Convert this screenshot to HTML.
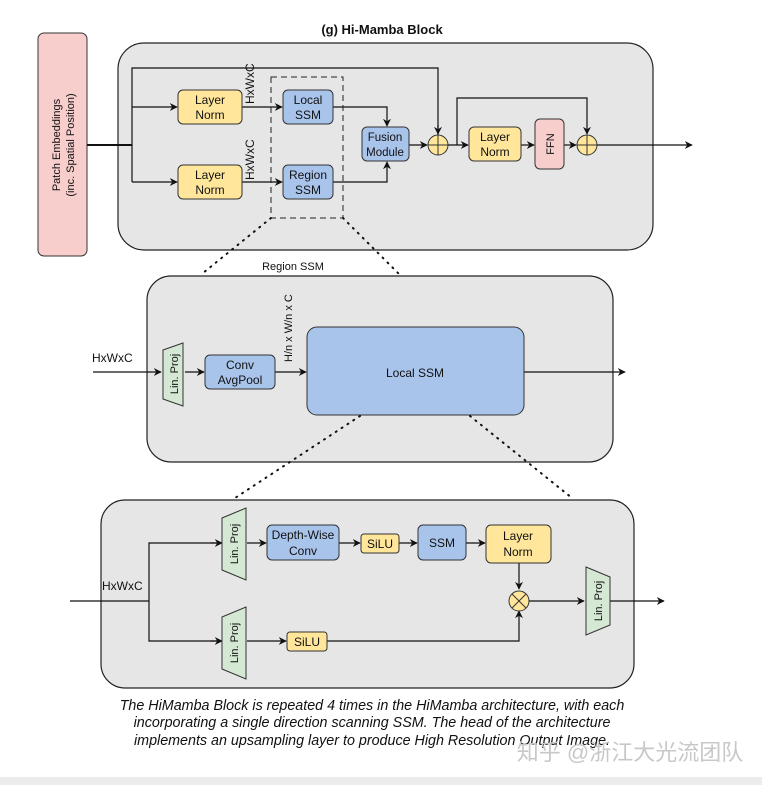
<!DOCTYPE html>
<html><head><meta charset="utf-8"><style>
html,body{margin:0;padding:0;background:#fff;}
svg{display:block;}
text{font-family:"Liberation Sans",sans-serif;fill:#111;}
</style></head><body>
<svg width="762" height="785" viewBox="0 0 762 785" xmlns="http://www.w3.org/2000/svg">
<defs>
<marker id="a" viewBox="0 0 10 10" refX="9" refY="5" markerWidth="8" markerHeight="8" orient="auto" markerUnits="userSpaceOnUse"><path d="M0,0 L10,5 L0,10 L3,5 z" fill="#111"/></marker>
</defs>
<rect x="0" y="0" width="762" height="785" fill="#fff"/>
<text x="382" y="34" font-size="13" font-weight="bold" text-anchor="middle">(g) Hi-Mamba Block</text>

<!-- top block -->
<rect x="118" y="43" width="535" height="207" rx="26" fill="#e6e6e6" stroke="#222" stroke-width="1.2"/>
<rect x="38" y="33" width="49" height="223" rx="6" fill="#f8cecc" stroke="#333" stroke-width="1"/>
<text transform="translate(60,145) rotate(-90)" font-size="11" text-anchor="middle">Patch Embeddings</text>
<text transform="translate(74,145) rotate(-90)" font-size="11" text-anchor="middle">(inc. Spatial Position)</text>
<g stroke="#111" fill="none" stroke-width="1.2">
<line x1="87" y1="145" x2="132" y2="145" stroke-width="2"/>
<polyline points="438,135 438,68 132,68 132,182"/>
<line x1="132" y1="107" x2="177" y2="107" marker-end="url(#a)"/>
<line x1="132" y1="182" x2="177" y2="182" marker-end="url(#a)"/>
<line x1="242" y1="107" x2="282" y2="107" marker-end="url(#a)"/>
<line x1="242" y1="182" x2="282" y2="182" marker-end="url(#a)"/>
<polyline points="333,107 387,107 387,126" marker-end="url(#a)"/>
<polyline points="333,182 387,182 387,162" marker-end="url(#a)"/>
<line x1="409" y1="145" x2="427" y2="145" marker-end="url(#a)"/>
<line x1="438" y1="125" x2="438" y2="134" marker-end="url(#a)"/>
<line x1="448" y1="145" x2="468" y2="145" marker-end="url(#a)"/>
<polyline points="457,145 457,98 587,98 587,134" marker-end="url(#a)"/>
<line x1="521" y1="145" x2="534" y2="145" marker-end="url(#a)"/>
<line x1="564" y1="145" x2="576" y2="145" marker-end="url(#a)"/>
<line x1="597" y1="145" x2="692" y2="145" marker-end="url(#a)"/>
</g>
<rect x="271" y="77" width="72" height="141" fill="none" stroke="#222" stroke-width="1" stroke-dasharray="6,4"/>
<rect x="178" y="90" width="64" height="34" rx="5" fill="#ffe69a" stroke="#333"/>
<text x="210" y="104" font-size="12" text-anchor="middle">Layer</text><text x="210" y="119" font-size="12" text-anchor="middle">Norm</text>
<rect x="178" y="165" width="64" height="34" rx="5" fill="#ffe69a" stroke="#333"/>
<text x="210" y="179" font-size="12" text-anchor="middle">Layer</text><text x="210" y="194" font-size="12" text-anchor="middle">Norm</text>
<text transform="translate(254,104) rotate(-90)" font-size="12">HxWxC</text>
<text transform="translate(254,180) rotate(-90)" font-size="12">HxWxC</text>
<rect x="283" y="90" width="50" height="34" rx="5" fill="#a9c4eb" stroke="#333"/>
<text x="308" y="104" font-size="12" text-anchor="middle">Local</text><text x="308" y="119" font-size="12" text-anchor="middle">SSM</text>
<rect x="283" y="165" width="50" height="34" rx="5" fill="#a9c4eb" stroke="#333"/>
<text x="308" y="179" font-size="12" text-anchor="middle">Region</text><text x="308" y="194" font-size="12" text-anchor="middle">SSM</text>
<rect x="362" y="127" width="47" height="34" rx="5" fill="#a9c4eb" stroke="#333"/>
<text x="385" y="141" font-size="11.5" text-anchor="middle">Fusion</text><text x="385" y="156" font-size="11.5" text-anchor="middle">Module</text>
<circle cx="438" cy="145" r="10" fill="#ffe69a" stroke="#333"/>
<path d="M428,145 H448 M438,135 V155" stroke="#333"/>
<rect x="469" y="127" width="52" height="34" rx="5" fill="#ffe69a" stroke="#333"/>
<text x="495" y="141" font-size="12" text-anchor="middle">Layer</text><text x="495" y="156" font-size="12" text-anchor="middle">Norm</text>
<rect x="535" y="119" width="29" height="50" rx="5" fill="#f8cecc" stroke="#333"/>
<text transform="translate(554,144) rotate(-90)" font-size="11" text-anchor="middle">FFN</text>
<circle cx="587" cy="145" r="10" fill="#ffe69a" stroke="#333"/>
<path d="M577,145 H597 M587,135 V155" stroke="#333"/>

<text x="293" y="270" font-size="11" text-anchor="middle">Region SSM</text>

<!-- middle block -->
<rect x="147" y="276" width="466" height="186" rx="24" fill="#e6e6e6" stroke="#222" stroke-width="1.2"/>
<text x="92" y="362" font-size="12">HxWxC</text>
<g stroke="#111" fill="none" stroke-width="1.2">
<line x1="93" y1="372" x2="161" y2="372" marker-end="url(#a)"/>
<line x1="185" y1="372" x2="204" y2="372" marker-end="url(#a)"/>
<line x1="275" y1="372" x2="306" y2="372" marker-end="url(#a)"/>
<line x1="524" y1="372" x2="625" y2="372" marker-end="url(#a)"/>
</g>
<polygon points="163,350 183,343 183,406 163,399" fill="#d5e8d4" stroke="#333"/>
<text transform="translate(178,374) rotate(-90)" font-size="11" text-anchor="middle">Lin. Proj</text>
<rect x="205" y="355" width="70" height="34" rx="5" fill="#a9c4eb" stroke="#333"/>
<text x="240" y="369" font-size="12" text-anchor="middle">Conv</text><text x="240" y="384" font-size="12" text-anchor="middle">AvgPool</text>
<text transform="translate(292,362) rotate(-90)" font-size="11">H/n x W/n x C</text>
<rect x="307" y="327" width="217" height="88" rx="10" fill="#a9c4eb" stroke="#333"/>
<text x="415" y="377" font-size="12" text-anchor="middle">Local SSM</text>

<!-- bottom block -->
<rect x="101" y="500" width="533" height="188" rx="24" fill="#e6e6e6" stroke="#222" stroke-width="1.2"/>
<text x="102" y="590" font-size="12">HxWxC</text>
<g stroke="#111" fill="none" stroke-width="1.2">
<line x1="70" y1="601" x2="149" y2="601"/>
<polyline points="221,543 149,543 149,641 221,641" />
<line x1="210" y1="543" x2="222" y2="543" marker-end="url(#a)"/>
<line x1="210" y1="641" x2="222" y2="641" marker-end="url(#a)"/>
<line x1="247" y1="543" x2="266" y2="543" marker-end="url(#a)"/>
<line x1="339" y1="543" x2="360" y2="543" marker-end="url(#a)"/>
<line x1="399" y1="543" x2="417" y2="543" marker-end="url(#a)"/>
<line x1="466" y1="543" x2="485" y2="543" marker-end="url(#a)"/>
<line x1="519" y1="563" x2="519" y2="589" marker-end="url(#a)"/>
<line x1="247" y1="641" x2="286" y2="641" marker-end="url(#a)"/>
<polyline points="327,641 519,641 519,611" marker-end="url(#a)"/>
<line x1="529" y1="601" x2="584" y2="601" marker-end="url(#a)"/>
<line x1="610" y1="601" x2="664" y2="601" marker-end="url(#a)"/>
</g>
<polygon points="222,518 246,508 246,580 222,570" fill="#d5e8d4" stroke="#333"/>
<text transform="translate(238,544) rotate(-90)" font-size="11" text-anchor="middle">Lin. Proj</text>
<polygon points="222,617 246,607 246,679 222,669" fill="#d5e8d4" stroke="#333"/>
<text transform="translate(238,643) rotate(-90)" font-size="11" text-anchor="middle">Lin. Proj</text>
<polygon points="586,567 610,577 610,625 586,635" fill="#d5e8d4" stroke="#333"/>
<text transform="translate(602,601) rotate(-90)" font-size="11" text-anchor="middle">Lin. Proj</text>
<rect x="267" y="525" width="72" height="35" rx="5" fill="#a9c4eb" stroke="#333"/>
<text x="303" y="539" font-size="12" text-anchor="middle">Depth-Wise</text><text x="303" y="555" font-size="12" text-anchor="middle">Conv</text>
<rect x="361" y="534" width="38" height="19" rx="3" fill="#ffe69a" stroke="#333"/>
<text x="380" y="548" font-size="12" text-anchor="middle">SiLU</text>
<rect x="418" y="525" width="48" height="35" rx="5" fill="#a9c4eb" stroke="#333"/>
<text x="442" y="547" font-size="12" text-anchor="middle">SSM</text>
<rect x="486" y="525" width="65" height="38" rx="5" fill="#ffe69a" stroke="#333"/>
<text x="518" y="540" font-size="12" text-anchor="middle">Layer</text><text x="518" y="556" font-size="12" text-anchor="middle">Norm</text>
<rect x="287" y="632" width="40" height="19" rx="3" fill="#ffe69a" stroke="#333"/>
<text x="307" y="646" font-size="12" text-anchor="middle">SiLU</text>
<circle cx="519" cy="601" r="10" fill="#ffe69a" stroke="#333"/>
<path d="M512,594 L526,608 M526,594 L512,608" stroke="#333"/>

<!-- dotted zoom lines (on top) -->
<g stroke="#111" stroke-width="2" stroke-dasharray="1,6" stroke-linecap="round" fill="none">
<line x1="271" y1="218" x2="203" y2="273"/>
<line x1="343" y1="218" x2="400" y2="275"/>
<line x1="360" y1="416" x2="232" y2="500"/>
<line x1="470" y1="416" x2="572" y2="498"/>
</g>

<g font-size="14.3" font-style="italic" text-anchor="middle">
<text x="372" y="710">The HiMamba Block is repeated 4 times in the  HiMamba architecture, with each</text>
<text x="372" y="727">incorporating a single direction scanning SSM. The head of the architecture</text>
<text x="372" y="745">implements an upsampling layer to produce High Resolution Output Image.</text>
</g>
<text x="630" y="760" font-size="22" text-anchor="middle" style="fill:#c8c8c8;font-family:'Liberation Sans','Noto Sans CJK SC',sans-serif;">知乎 @浙江大光流团队</text>
<rect x="0" y="777" width="762" height="8" fill="#ececec"/>
</svg>
</body></html>
